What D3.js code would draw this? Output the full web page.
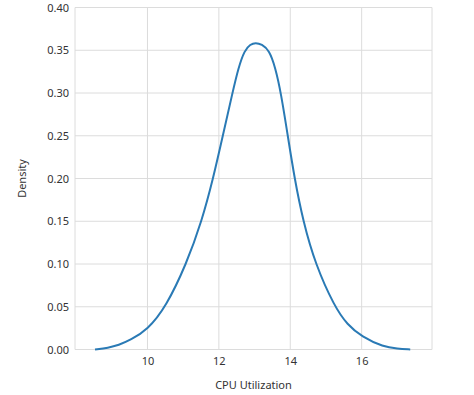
<!DOCTYPE html>
<html>
<head>
<meta charset="utf-8">
<script src="https://cdn.jsdelivr.net/npm/d3@7"></script>
<style>
  body { margin: 0; background: #fff; }
  text { font-family: "Noto Sans", Inter, sans-serif; }
</style>
</head>
<body>
<div id="chart"></div>
<script>
// --- Data ---
const cpuValues = [8.53, 8.9, 9.19, 9.52, 10.0, 10.52, 11.09, 11.52, 11.84, 12.11, 12.38, 12.55, 12.72, 12.88, 13.03, 13.2, 13.41, 13.58, 13.74, 13.93, 14.12, 14.36, 14.70, 15.24, 15.6, 16.0, 16.61, 17.0, 17.36];
const densityValues = [0.000, 0.002, 0.005, 0.011, 0.023, 0.050, 0.100, 0.150, 0.200, 0.250, 0.300, 0.330, 0.350, 0.357, 0.359, 0.357, 0.350, 0.330, 0.300, 0.250, 0.200, 0.150, 0.100, 0.050, 0.029, 0.015, 0.003, 0.001, 0.000];
const xTicks = [10, 12, 14, 16];
const yTicks = [0, 0.05, 0.1, 0.15, 0.2, 0.25, 0.3, 0.35, 0.4];

const width = 474, height = 395;
const margin = { top: 7.5, right: 42, bottom: 45.5, left: 75 };

const svg = d3.select("#chart").append("svg")
    .attr("width", width)
    .attr("height", height);

const x = d3.scaleLinear()
    .domain([7.97, 17.97])
    .range([margin.left, width - margin.right]);

const y = d3.scaleLinear()
    .domain([0, 0.4])
    .range([height - margin.bottom, margin.top]);

const gridColor = "#dcdcdc";

// --- Grid ---
svg.append("g")
    .selectAll("line.hgrid")
    .data(yTicks)
    .enter().append("line")
    .attr("x1", margin.left).attr("x2", width - margin.right)
    .attr("y1", d => y(d)).attr("y2", d => y(d))
    .attr("stroke", gridColor).attr("stroke-width", 1);

svg.append("g")
    .selectAll("line.vgrid")
    .data(xTicks)
    .enter().append("line")
    .attr("x1", d => x(d)).attr("x2", d => x(d))
    .attr("y1", margin.top).attr("y2", height - margin.bottom)
    .attr("stroke", gridColor).attr("stroke-width", 1);

// frame sides
svg.append("line")
    .attr("x1", margin.left).attr("x2", margin.left)
    .attr("y1", margin.top).attr("y2", height - margin.bottom)
    .attr("stroke", gridColor);
svg.append("line")
    .attr("x1", width - margin.right).attr("x2", width - margin.right)
    .attr("y1", margin.top).attr("y2", height - margin.bottom)
    .attr("stroke", gridColor);

// --- Axes ---
const xAxis = svg.append("g")
    .attr("transform", `translate(0,${height - margin.bottom})`)
    .call(d3.axisBottom(x).tickValues(xTicks).tickSize(0).tickPadding(8));
xAxis.select(".domain").remove();
xAxis.selectAll("text").attr("font-size", 11).attr("fill", "#333")
    .style("font-family", '"Noto Sans", sans-serif');

const yAxis = svg.append("g")
    .attr("transform", `translate(${margin.left},0)`)
    .call(d3.axisLeft(y).tickValues(yTicks).tickFormat(d3.format(".2f")).tickSize(0).tickPadding(6));
yAxis.select(".domain").remove();
yAxis.selectAll("text").attr("font-size", 11).attr("fill", "#333")
    .style("font-family", '"Noto Sans", sans-serif');

// --- Axis titles ---
svg.append("text")
    .attr("x", (margin.left + width - margin.right) / 2)
    .attr("y", 389)
    .attr("text-anchor", "middle")
    .attr("font-size", 11)
    .attr("fill", "#333")
    .text("CPU Utilization");

svg.append("text")
    .attr("transform", `translate(26,${(margin.top + height - margin.bottom) / 2}) rotate(-90)`)
    .attr("text-anchor", "middle")
    .attr("font-size", 11)
    .attr("fill", "#333")
    .text("Density");

// --- Density curve ---
const points = cpuValues.map((v, i) => [v, densityValues[i]]);
const line = d3.line()
    .x(d => x(d[0]))
    .y(d => y(d[1]))
    .curve(d3.curveBasis);

svg.append("path")
    .datum(points)
    .attr("fill", "none")
    .attr("stroke", "#2a7ab5")
    .attr("stroke-width", 2)
    .attr("d", line);
</script>
</body>
</html>
